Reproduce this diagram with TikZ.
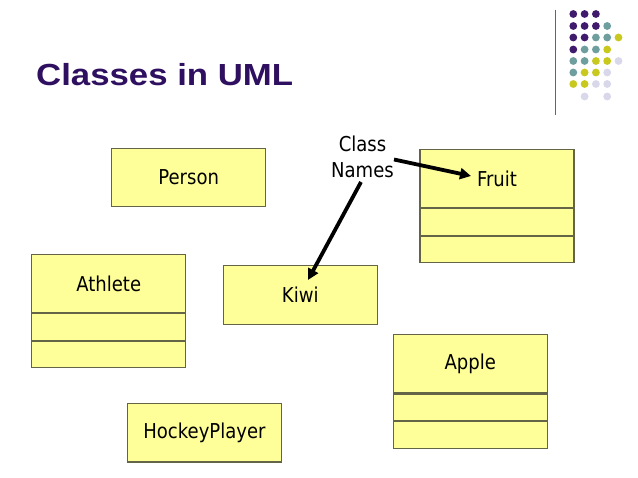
\documentclass[tikz,border=0pt]{standalone}
\usepackage{fontspec}
\setmainfont[FakeStretch=0.88]{DejaVu Sans}
\newfontfamily\titlefont[FakeStretch=1.14]{Liberation Sans}
\usetikzlibrary{arrows.meta}
\definecolor{boxfill}{RGB}{255,255,153}
\definecolor{boxline}{RGB}{100,100,70}
\definecolor{titlecol}{RGB}{47,15,95}
\definecolor{dpurple}{RGB}{64,26,108}
\definecolor{dteal}{RGB}{110,158,158}
\definecolor{dyellow}{RGB}{200,200,30}
\definecolor{dlav}{RGB}{216,216,234}
\tikzset{
  clsname/.style={draw=boxline, fill=boxfill, line width=1.1pt, minimum width=154pt, minimum height=58.5pt, inner sep=0pt, font=\fontsize{20.5}{24}\selectfont, text=black},
  clspart/.style={draw=boxline, fill=boxfill, line width=1.1pt, minimum width=154pt, minimum height=26.5pt, inner sep=0pt},
  callout/.style={line width=3.8pt, -{Triangle[length=11pt,width=11pt]}},
  dot/.style={circle, inner sep=0pt, minimum size=7.8pt}
}
\begin{document}
\begin{tikzpicture}[x=1pt,y=-1pt]
\path[use as bounding box, fill=white] (0,0) rectangle (638,478);
% decoration
\draw[line width=1.2pt, gray!80!black] (555.7,10) coordinate (vl1) -- (555.7,115) coordinate (vl2);
\foreach \r/\y/\cols in {0/14/{0/dpurple,1/dpurple,2/dpurple},
                       1/26/{0/dpurple,1/dpurple,2/dpurple,3/dteal},
                       2/37.5/{0/dpurple,1/dpurple,2/dteal,3/dteal,4/dyellow},
                       3/49.5/{0/dpurple,1/dteal,2/dteal,3/dyellow},
                       4/61/{0/dteal,1/dteal,2/dyellow,3/dyellow,4/dlav},
                       5/72.5/{0/dteal,1/dyellow,2/dyellow,3/dlav},
                       6/84/{0/dyellow,1/dyellow,2/dlav,3/dlav},
                       7/96.5/{1/dlav,3/dlav}}{
  \foreach \c/\col in \cols {
    \node[dot, fill=\col] (d\r\c) at ({573.3+11.3*\c},\y) {};
  }
}
% title
\node[anchor=base west, inner sep=0pt, text=titlecol, font=\titlefont\bfseries\fontsize{30.5}{34}\selectfont] (title) at (36,85.7) {Classes in UML};
% classes
\node[clsname] (person) at (188.7,177.5) {Person};
\node[clsname] (fruit) at (497,178.5) {Fruit};
\node[clspart, anchor=north] (fruit2) at (fruit.south) {};
\node[clspart, anchor=north] (fruit3) at (fruit2.south) {};
\node[clsname] (athlete) at (108.7,283.5) {Athlete};
\node[clspart, anchor=north] (athlete2) at (athlete.south) {};
\node[clspart, anchor=north] (athlete3) at (athlete2.south) {};
\node[clsname] (kiwi) at (300.3,295) {Kiwi};
\node[clsname] (apple) at (470.3,363.8) {Apple};
\node[clspart, anchor=north] (apple2) at (apple.south) {};
\node[clspart, anchor=north] (apple3) at (apple2.south) {};
\node[clsname] (hockey) at (204.5,432.8) {HockeyPlayer};
% callout
\node[align=center, anchor=base, inner sep=0pt, font=\fontsize{20.5}{26}\selectfont] (names) at (362.5,177.7) {Class\\Names};
\coordinate (a1s) at (394,159.5);
\coordinate (a1e) at (471,176);
\coordinate (a2s) at (361,182);
\coordinate (a2e) at (308,280);
\draw[callout] (a1s) -- (a1e);
\draw[callout] (a2s) -- (a2e);
\end{tikzpicture}
\end{document}
